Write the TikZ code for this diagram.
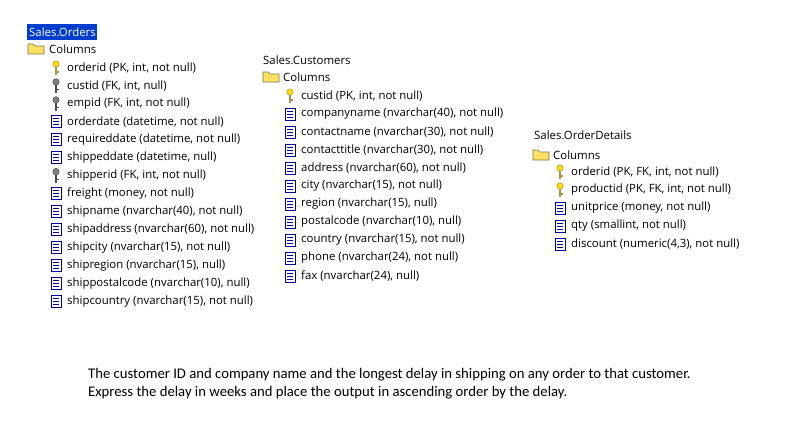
\documentclass[tikz,border=0pt]{standalone}
\usepackage{fontspec}
\setmainfont{Open Sans}
\newfontfamily\calfont{Carlito}
\begin{document}
\begin{tikzpicture}[x=1pt,y=-1pt,
  lbl/.style={anchor=west,inner sep=0pt,font=\fontsize{11.4}{13}\selectfont},
  note/.style={anchor=west,inner sep=0pt,font=\calfont\fontsize{14.7}{17}\selectfont}]
\useasboundingbox (0,0) rectangle (796,431);
\fill[white] (0,0) rectangle (796,431);
\newcommand\folder[2]{%
  \fill[yellow!70!orange!60, draw=black!60!yellow, line width=0.6pt] (#1-8,#2-4) -- (#1-8,#2+5) -- (#1+8,#2+5) -- (#1+8,#2-3) -- (#1-1,#2-3) -- (#1-3,#2-5) -- (#1-8,#2-5) -- cycle;}
\newcommand\colicon[2]{%
  \draw[fill=white,draw=blue!60!black,line width=0.8pt] (#1-5,#2-6) rectangle (#1+5,#2+6);
  \foreach \d in {-3,0,3} \draw[blue!60!black,line width=0.6pt] (#1-3,#2+\d) -- (#1+3,#2+\d);}
\newcommand\keyicon[3]{%
  \fill[#3, draw=#3!60!black, line width=0.5pt] (#1,#2-4) circle (3.2);
  \fill[#3!60!black] (#1-1,#2-1) rectangle (#1+1,#2+7);
  \fill[#3!60!black] (#1+1,#2+3) rectangle (#1+3,#2+4.5);}
% Sales.Orders
\fill[blue!70!cyan!80!black] (27,24) rectangle (97,40);
\node[lbl,text=white] (so) at (29,32) {Sales.Orders};
\folder{36}{49}
\node[lbl] (soc) at (49,49) {Columns};
\foreach \t/\k [count=\i from 0] in {{orderid (PK, int, not null)}/1,{custid (FK, int, null)}/2,{empid (FK, int, not null)}/2,{orderdate (datetime, not null)}/0,{requireddate (datetime, not null)}/0,{shippeddate (datetime, null)}/0,{shipperid (FK, int, not null)}/2,{freight (money, not null)}/0,{shipname (nvarchar(40), not null)}/0,{shipaddress (nvarchar(60), not null)}/0,{shipcity (nvarchar(15), not null)}/0,{shipregion (nvarchar(15), null)}/0,{shippostalcode (nvarchar(10), null)}/0,{shipcountry (nvarchar(15), not null)}/0}{
  \pgfmathsetmacro\yy{68+17.93*\i}
  \ifnum\k=0 \colicon{56}{\yy}\fi
  \ifnum\k=1 \keyicon{56}{\yy}{yellow!80!orange}\fi
  \ifnum\k=2 \keyicon{56}{\yy}{gray}\fi
  \node[lbl] (so\i) at (67,\yy) {\t};
}
% Sales.Customers
\node[lbl] (sc) at (263,60) {Sales.Customers};
\folder{271}{77}
\node[lbl] (scc) at (283,77) {Columns};
\foreach \t/\k [count=\i from 0] in {{custid (PK, int, not null)}/1,{companyname (nvarchar(40), not null)}/0,{contactname (nvarchar(30), not null)}/0,{contacttitle (nvarchar(30), not null)}/0,{address (nvarchar(60), not null)}/0,{city (nvarchar(15), not null)}/0,{region (nvarchar(15), null)}/0,{postalcode (nvarchar(10), null)}/0,{country (nvarchar(15), not null)}/0,{phone (nvarchar(24), not null)}/0,{fax (nvarchar(24), null)}/0}{
  \pgfmathsetmacro\yy{96+18*\i}
  \ifnum\k=0 \colicon{290}{\yy}\fi
  \ifnum\k=1 \keyicon{290}{\yy}{yellow!80!orange}\fi
  \node[lbl] (sc\i) at (301,\yy) {\t};
}
% Sales.OrderDetails
\node[lbl] (sd) at (534,135) {Sales.OrderDetails};
\folder{541}{155}
\node[lbl] (sdc) at (553,155) {Columns};
\foreach \t/\k [count=\i from 0] in {{orderid (PK, FK, int, not null)}/1,{productid (PK, FK, int, not null)}/1,{unitprice (money, not null)}/0,{qty (smallint, not null)}/0,{discount (numeric(4,3), not null)}/0}{
  \pgfmathsetmacro\yy{172+18*\i}
  \ifnum\k=0 \colicon{560}{\yy}\fi
  \ifnum\k=1 \keyicon{560}{\yy}{yellow!80!orange}\fi
  \node[lbl] (sd\i) at (571,\yy) {\t};
}
\node[note] (n1) at (88,375) {The customer ID and company name and the longest delay in shipping on any order to that customer.};
\node[note] (n2) at (88,393) {Express the delay in weeks and place the output in ascending order by the delay.};
\end{tikzpicture}
\end{document}
